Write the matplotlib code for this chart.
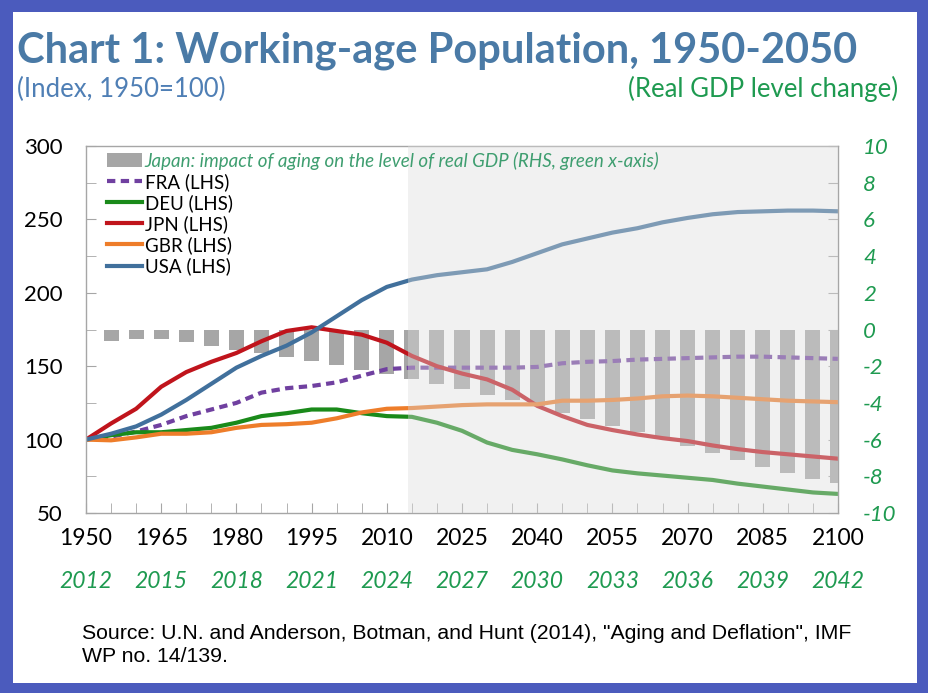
import numpy as np
import matplotlib
matplotlib.use("Agg")
import matplotlib.pyplot as plt
from matplotlib.patches import Rectangle, Patch
from matplotlib.lines import Line2D

plt.rcParams["font.family"] = ["Lato", "DejaVu Sans"]
plt.rcParams["axes.unicode_minus"] = False

# working-age population index (1950=100), every 5 years
years = list(range(1950, 2101, 5))
fra = [100, 102, 105.5, 110, 116, 120.5, 125, 132, 135, 136.5, 139, 143.5, 148,
       149, 149, 149, 149, 149, 149.5, 152, 153, 153.5, 154.5, 155, 155.5, 156,
       156.5, 156.5, 156, 155.5, 155]
deu = [100, 103, 105, 105, 106.5, 108, 111.5, 116, 118, 120.5, 120.5, 118, 116,
       115.5, 111.5, 106, 98, 93, 90, 86.5, 82.5, 79, 77, 75.5, 74, 72.5, 70, 68,
       66, 64, 63]
jpn = [100, 111, 121, 136, 146, 153, 159, 167, 174, 176.5, 174, 171.5, 166,
       157, 150, 145, 141, 134, 123, 116, 110, 106.5, 103.5, 101, 99, 96, 93.5,
       91.5, 90, 88.5, 87]
gbr = [100, 99.5, 101.5, 104, 104, 105, 108, 110, 110.5, 111.5, 114.5, 118.5, 121,
       121.5, 122.5, 123.5, 124, 124, 124, 126.5, 126.5, 127, 128, 129.5, 130,
       129.5, 128.5, 127.5, 126.5, 126, 125.5]
usa = [100, 104, 109, 117, 127, 138, 149, 157, 164, 173, 184, 195, 204,
       209, 212, 214, 216, 221, 227, 233, 237, 241, 244, 248, 251, 253.5, 255,
       255.5, 256, 256, 255.5]

# Japan: impact of aging on real GDP level (RHS, green x-axis)
gdp_years = list(range(2013, 2043))
gdp_impact = [-0.64, -0.51, -0.51, -0.69, -0.91, -1.13, -1.27, -1.49, -1.73, -1.95,
              -2.18, -2.41, -2.70, -2.97, -3.23, -3.58, -3.85, -4.17, -4.54, -4.87,
              -5.27, -5.58, -5.94, -6.36, -6.72, -7.12, -7.48, -7.81, -8.14, -8.36]

lower_ticks = list(range(1950, 2101, 15))
green_ticks = list(range(2012, 2043, 3))

BLUE_T = "#4a7aa6"
GREEN = "#1e9a50"
GREEN_L = "#3f9e70"
SPINE = "#a6a6a6"

W, H = 929, 693
fig = plt.figure(figsize=(W / 100, H / 100), dpi=100)
fig.patch.set_facecolor("#4b5bbd")
fig.add_artist(Rectangle((13 / W, 10 / H), (917 - 13) / W, (681 - 10) / H,
                         transform=fig.transFigure, facecolor="white",
                         edgecolor="none", zorder=-1))

rect = [86 / W, (H - 513) / H, (838 - 86) / W, (513 - 146) / H]

# bars on the right axis / green x-axis
axb = fig.add_axes(rect)
axb.bar(gdp_years, gdp_impact, width=0.6, color="#a6a6a6", zorder=1)
axb.set_xlim(2012, 2042)
axb.set_ylim(-10, 10)
axb.yaxis.tick_right()
axb.set_yticks(range(-10, 11, 2))
axb.tick_params(axis="y", direction="in", length=7, color=SPINE, pad=18,
                labelsize=16, labelcolor=GREEN)
for t in axb.get_yticklabels():
    t.set_fontstyle("italic")
axb.set_xticks(green_ticks)
axb.tick_params(axis="x", length=0, pad=42, labelsize=16.5, labelcolor=GREEN)
for t in axb.get_xticklabels():
    t.set_fontstyle("italic")
for s in axb.spines.values():
    s.set_visible(False)

# lines on the left axis
ax = fig.add_axes(rect)
ax.patch.set_visible(False)
ax.plot(years, fra, color="#7040a0", lw=3, ls=(0, (2, 1.3)), zorder=2)
ax.plot(years, deu, color="#1a8a1a", lw=3, zorder=2)
ax.plot(years, jpn, color="#c0141c", lw=3, zorder=2)
ax.plot(years, gbr, color="#ee7d2a", lw=3, zorder=2)
ax.plot(years, usa, color="#41709c", lw=3, zorder=2)
ax.axvspan(2014.2, 2100, facecolor="#dcdcdc", alpha=0.4, edgecolor="none", zorder=3)

ax.set_xlim(1950, 2100)
ax.set_ylim(50, 300)
ax.set_yticks(range(50, 301, 50))
ax.set_yticks(range(75, 300, 50), minor=True)
ax.set_xticks(lower_ticks)
ax.set_xticks(range(1950, 2101, 5), minor=True)
ax.tick_params(axis="both", which="both", direction="in", length=7, color=SPINE)
ax.tick_params(axis="y", which="major", pad=17, labelsize=16)
ax.tick_params(axis="x", which="major", pad=11, labelsize=16.5)
ax.tick_params(axis="y", which="minor", labelleft=False)
for s in ax.spines.values():
    s.set_color(SPINE)
    s.set_linewidth(1)

handles = [Patch(facecolor="#a6a6a6", edgecolor="none"),
           Line2D([], [], color="#7040a0", lw=3, ls=(0, (2, 1.3))),
           Line2D([], [], color="#1a8a1a", lw=3),
           Line2D([], [], color="#c0141c", lw=3),
           Line2D([], [], color="#ee7d2a", lw=3),
           Line2D([], [], color="#41709c", lw=3)]
labels = ["Japan: impact of aging on the level of real GDP (RHS, green x-axis)",
          "FRA (LHS)", "DEU (LHS)", "JPN (LHS)", "GBR (LHS)", "USA (LHS)"]
leg = ax.legend(handles, labels, loc="upper left", bbox_to_anchor=(0.018, 1.005),
                frameon=False, fontsize=13.5, handlelength=1.85, handleheight=0.75,
                handletextpad=0.15, labelspacing=0.17, borderaxespad=0.0)
leg.set_zorder(5)
txts = leg.get_texts()
txts[0].set_color(GREEN_L)
txts[0].set_fontstyle("italic")

fig.text(17 / W, 1 - 62 / H, "Chart 1: Working-age Population, 1950-2050",
         fontsize=30, fontweight="bold", color=BLUE_T, va="baseline")
fig.text(17 / W, 1 - 97 / H, "(Index, 1950=100)", fontsize=18.5, color="#4f7fb5",
         va="baseline")
fig.text(898 / W, 1 - 97 / H, "(Real GDP level change)", fontsize=18.5, color=GREEN,
         va="baseline", ha="right")
fig.text(82 / W, 1 - 624 / H,
         "Source: U.N. and Anderson, Botman, and Hunt (2014), \"Aging and Deflation\", IMF\n"
         "WP no. 14/139.", fontsize=15.3, family="Liberation Sans", va="top",
         linespacing=1.3)

fig.savefig("out.png", dpi=100)
